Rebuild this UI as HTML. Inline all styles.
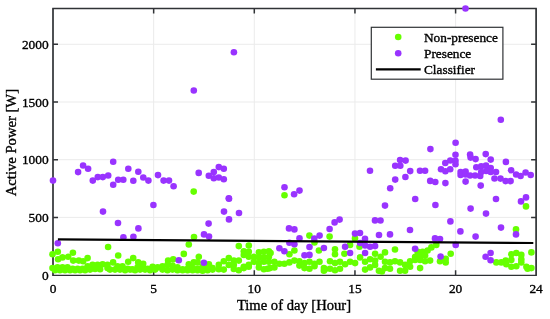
<!DOCTYPE html><html><head><meta charset="utf-8"><style>html,body{margin:0;padding:0;background:#fff;width:550px;height:319px;overflow:hidden}svg{display:block}text{font-family:"Liberation Serif","Times New Roman",serif;fill:#000;stroke:#000;stroke-width:0.35px}</style></head><body>
<svg width="550" height="319" viewBox="0 0 550 319">
<rect width="550" height="319" fill="#fff"/>
<path d="M153.65 8.5V275.15M254.30 8.5V275.15M354.95 8.5V275.15M455.60 8.5V275.15M53.0 217.40H536.1M53.0 159.70H536.1M53.0 102.00H536.1M53.0 44.30H536.1" stroke="#ebebeb" stroke-width="1" fill="none"/>
<path d="M52.25 8.5H536.85M52.25 275.45H536.85" stroke="#303336" stroke-width="1.3" fill="none"/>
<path d="M53.0 8.5V275.45M536.1 8.5V275.45" stroke="#303336" stroke-width="1.7" fill="none"/>
<path d="M153.65 275.45v-5.3M153.65 8.5v5M254.30 275.45v-5.3M254.30 8.5v5M354.95 275.45v-5.3M354.95 8.5v5M455.60 275.45v-5.3M455.60 8.5v5M53.0 217.40h5M536.1 217.40h-5M53.0 159.70h5M536.1 159.70h-5M53.0 102.00h5M536.1 102.00h-5M53.0 44.30h5M536.1 44.30h-5" stroke="#303336" stroke-width="1.5" fill="none"/>
<g fill="#66ff00"><circle cx="193.7" cy="191.6" r="3.3"/><circle cx="284.5" cy="195.2" r="3.3"/><circle cx="194.0" cy="237.0" r="3.3"/><circle cx="309.4" cy="235.6" r="3.3"/><circle cx="329.6" cy="236.6" r="3.3"/><circle cx="355.0" cy="238.4" r="3.3"/><circle cx="526.0" cy="206.4" r="3.3"/><circle cx="516.0" cy="229.4" r="3.3"/><circle cx="52.5" cy="268.1" r="3.3"/><circle cx="57.5" cy="267.4" r="3.3"/><circle cx="62.5" cy="267.4" r="3.3"/><circle cx="67.5" cy="267.4" r="3.3"/><circle cx="72.6" cy="268.7" r="3.3"/><circle cx="77.6" cy="268.7" r="3.3"/><circle cx="82.6" cy="268.7" r="3.3"/><circle cx="87.6" cy="266.2" r="3.3"/><circle cx="92.6" cy="264.9" r="3.3"/><circle cx="97.6" cy="264.9" r="3.3"/><circle cx="102.6" cy="264.3" r="3.3"/><circle cx="55.0" cy="270.2" r="3.3"/><circle cx="60.0" cy="270.2" r="3.3"/><circle cx="65.0" cy="270.2" r="3.3"/><circle cx="70.1" cy="270.2" r="3.3"/><circle cx="75.1" cy="270.2" r="3.3"/><circle cx="80.1" cy="270.2" r="3.3"/><circle cx="85.1" cy="270.2" r="3.3"/><circle cx="90.1" cy="269.6" r="3.3"/><circle cx="95.1" cy="269.0" r="3.3"/><circle cx="100.1" cy="269.3" r="3.3"/><circle cx="57.8" cy="251.8" r="3.3"/><circle cx="52.5" cy="254.3" r="3.3"/><circle cx="72.9" cy="252.7" r="3.3"/><circle cx="58.1" cy="259.3" r="3.3"/><circle cx="62.5" cy="257.4" r="3.3"/><circle cx="68.2" cy="256.8" r="3.3"/><circle cx="73.2" cy="260.6" r="3.3"/><circle cx="78.8" cy="260.6" r="3.3"/><circle cx="83.2" cy="261.2" r="3.3"/><circle cx="87.6" cy="258.1" r="3.3"/><circle cx="108.1" cy="247.0" r="3.3"/><circle cx="118.2" cy="255.5" r="3.3"/><circle cx="113.1" cy="262.4" r="3.3"/><circle cx="128.2" cy="261.8" r="3.3"/><circle cx="133.2" cy="258.1" r="3.3"/><circle cx="138.2" cy="262.4" r="3.3"/><circle cx="143.2" cy="263.7" r="3.3"/><circle cx="107.5" cy="264.9" r="3.3"/><circle cx="107.5" cy="268.1" r="3.3"/><circle cx="117.5" cy="266.2" r="3.3"/><circle cx="122.5" cy="266.2" r="3.3"/><circle cx="127.6" cy="268.7" r="3.3"/><circle cx="132.6" cy="269.3" r="3.3"/><circle cx="137.6" cy="267.4" r="3.3"/><circle cx="142.6" cy="267.4" r="3.3"/><circle cx="147.6" cy="268.7" r="3.3"/><circle cx="152.6" cy="266.8" r="3.3"/><circle cx="157.6" cy="267.4" r="3.3"/><circle cx="110.0" cy="269.6" r="3.3"/><circle cx="115.0" cy="269.6" r="3.3"/><circle cx="120.0" cy="269.6" r="3.3"/><circle cx="125.1" cy="270.2" r="3.3"/><circle cx="130.1" cy="269.6" r="3.3"/><circle cx="135.1" cy="270.2" r="3.3"/><circle cx="140.1" cy="269.6" r="3.3"/><circle cx="145.1" cy="269.6" r="3.3"/><circle cx="150.1" cy="270.2" r="3.3"/><circle cx="155.1" cy="269.6" r="3.3"/><circle cx="188.8" cy="244.5" r="3.3"/><circle cx="183.8" cy="253.9" r="3.3"/><circle cx="198.8" cy="256.8" r="3.3"/><circle cx="168.1" cy="260.6" r="3.3"/><circle cx="173.2" cy="259.3" r="3.3"/><circle cx="188.8" cy="264.3" r="3.3"/><circle cx="193.8" cy="262.4" r="3.3"/><circle cx="197.6" cy="262.4" r="3.3"/><circle cx="208.9" cy="264.3" r="3.3"/><circle cx="162.5" cy="266.2" r="3.3"/><circle cx="167.5" cy="264.9" r="3.3"/><circle cx="172.5" cy="265.6" r="3.3"/><circle cx="177.5" cy="267.4" r="3.3"/><circle cx="182.6" cy="269.3" r="3.3"/><circle cx="187.6" cy="268.7" r="3.3"/><circle cx="192.6" cy="268.1" r="3.3"/><circle cx="197.6" cy="268.7" r="3.3"/><circle cx="202.6" cy="266.8" r="3.3"/><circle cx="207.6" cy="268.1" r="3.3"/><circle cx="212.6" cy="268.1" r="3.3"/><circle cx="162.5" cy="269.6" r="3.3"/><circle cx="167.5" cy="270.2" r="3.3"/><circle cx="172.5" cy="269.6" r="3.3"/><circle cx="177.5" cy="270.2" r="3.3"/><circle cx="182.6" cy="270.2" r="3.3"/><circle cx="187.6" cy="270.2" r="3.3"/><circle cx="192.6" cy="270.2" r="3.3"/><circle cx="197.6" cy="270.2" r="3.3"/><circle cx="202.6" cy="270.8" r="3.3"/><circle cx="207.6" cy="270.2" r="3.3"/><circle cx="212.6" cy="269.6" r="3.3"/><circle cx="238.8" cy="246.1" r="3.3"/><circle cx="248.8" cy="245.5" r="3.3"/><circle cx="243.8" cy="251.2" r="3.3"/><circle cx="248.8" cy="251.8" r="3.3"/><circle cx="258.9" cy="252.4" r="3.3"/><circle cx="263.9" cy="251.8" r="3.3"/><circle cx="268.9" cy="251.2" r="3.3"/><circle cx="243.8" cy="254.9" r="3.3"/><circle cx="248.8" cy="256.8" r="3.3"/><circle cx="253.8" cy="256.8" r="3.3"/><circle cx="228.8" cy="258.1" r="3.3"/><circle cx="233.8" cy="260.6" r="3.3"/><circle cx="238.8" cy="260.6" r="3.3"/><circle cx="223.8" cy="261.2" r="3.3"/><circle cx="218.8" cy="264.9" r="3.3"/><circle cx="258.9" cy="257.4" r="3.3"/><circle cx="263.9" cy="257.4" r="3.3"/><circle cx="268.9" cy="256.8" r="3.3"/><circle cx="253.8" cy="261.8" r="3.3"/><circle cx="258.9" cy="263.1" r="3.3"/><circle cx="263.9" cy="261.8" r="3.3"/><circle cx="268.9" cy="261.8" r="3.3"/><circle cx="228.8" cy="264.9" r="3.3"/><circle cx="233.8" cy="264.9" r="3.3"/><circle cx="243.8" cy="266.8" r="3.3"/><circle cx="248.8" cy="264.9" r="3.3"/><circle cx="218.8" cy="269.3" r="3.3"/><circle cx="223.8" cy="269.6" r="3.3"/><circle cx="233.8" cy="269.0" r="3.3"/><circle cx="238.8" cy="270.2" r="3.3"/><circle cx="243.8" cy="268.1" r="3.3"/><circle cx="248.8" cy="266.8" r="3.3"/><circle cx="258.9" cy="267.4" r="3.3"/><circle cx="263.9" cy="269.3" r="3.3"/><circle cx="267.6" cy="268.7" r="3.3"/><circle cx="270.6" cy="253.0" r="3.3"/><circle cx="294.4" cy="250.5" r="3.3"/><circle cx="289.4" cy="254.3" r="3.3"/><circle cx="318.9" cy="250.5" r="3.3"/><circle cx="314.5" cy="242.4" r="3.3"/><circle cx="274.4" cy="261.8" r="3.3"/><circle cx="279.4" cy="263.7" r="3.3"/><circle cx="284.4" cy="263.7" r="3.3"/><circle cx="289.4" cy="262.4" r="3.3"/><circle cx="294.4" cy="260.6" r="3.3"/><circle cx="299.4" cy="261.2" r="3.3"/><circle cx="304.5" cy="263.1" r="3.3"/><circle cx="309.5" cy="261.8" r="3.3"/><circle cx="314.5" cy="263.7" r="3.3"/><circle cx="319.5" cy="261.8" r="3.3"/><circle cx="270.0" cy="268.1" r="3.3"/><circle cx="274.4" cy="267.4" r="3.3"/><circle cx="299.4" cy="265.6" r="3.3"/><circle cx="304.5" cy="268.1" r="3.3"/><circle cx="309.5" cy="268.7" r="3.3"/><circle cx="314.5" cy="266.2" r="3.3"/><circle cx="323.9" cy="268.1" r="3.3"/><circle cx="323.9" cy="270.8" r="3.3"/><circle cx="350.1" cy="244.9" r="3.3"/><circle cx="359.5" cy="246.8" r="3.3"/><circle cx="335.0" cy="249.3" r="3.3"/><circle cx="335.0" cy="254.3" r="3.3"/><circle cx="344.4" cy="253.7" r="3.3"/><circle cx="375.1" cy="253.7" r="3.3"/><circle cx="330.0" cy="261.2" r="3.3"/><circle cx="335.0" cy="263.1" r="3.3"/><circle cx="340.0" cy="261.8" r="3.3"/><circle cx="345.1" cy="264.3" r="3.3"/><circle cx="350.1" cy="261.8" r="3.3"/><circle cx="355.1" cy="263.1" r="3.3"/><circle cx="360.1" cy="257.4" r="3.3"/><circle cx="365.1" cy="261.8" r="3.3"/><circle cx="370.1" cy="259.3" r="3.3"/><circle cx="375.1" cy="260.6" r="3.3"/><circle cx="375.1" cy="264.9" r="3.3"/><circle cx="325.0" cy="269.3" r="3.3"/><circle cx="330.0" cy="268.7" r="3.3"/><circle cx="335.0" cy="270.2" r="3.3"/><circle cx="340.0" cy="268.7" r="3.3"/><circle cx="365.1" cy="269.6" r="3.3"/><circle cx="370.1" cy="267.4" r="3.3"/><circle cx="378.9" cy="270.8" r="3.3"/><circle cx="385.0" cy="252.4" r="3.3"/><circle cx="395.0" cy="249.5" r="3.3"/><circle cx="380.6" cy="256.8" r="3.3"/><circle cx="417.6" cy="251.8" r="3.3"/><circle cx="422.6" cy="251.8" r="3.3"/><circle cx="427.6" cy="250.5" r="3.3"/><circle cx="431.4" cy="247.4" r="3.3"/><circle cx="415.1" cy="256.8" r="3.3"/><circle cx="420.1" cy="256.8" r="3.3"/><circle cx="425.1" cy="255.5" r="3.3"/><circle cx="385.0" cy="261.8" r="3.3"/><circle cx="390.0" cy="262.4" r="3.3"/><circle cx="395.0" cy="261.2" r="3.3"/><circle cx="400.1" cy="262.4" r="3.3"/><circle cx="405.1" cy="264.9" r="3.3"/><circle cx="410.1" cy="261.2" r="3.3"/><circle cx="415.1" cy="259.9" r="3.3"/><circle cx="420.1" cy="259.9" r="3.3"/><circle cx="425.1" cy="261.2" r="3.3"/><circle cx="430.1" cy="260.6" r="3.3"/><circle cx="385.0" cy="268.1" r="3.3"/><circle cx="390.0" cy="268.7" r="3.3"/><circle cx="400.1" cy="270.8" r="3.3"/><circle cx="405.1" cy="270.8" r="3.3"/><circle cx="410.1" cy="266.8" r="3.3"/><circle cx="420.1" cy="268.1" r="3.3"/><circle cx="381.9" cy="271.5" r="3.3"/><circle cx="436.3" cy="244.9" r="3.3"/><circle cx="450.7" cy="253.7" r="3.3"/><circle cx="440.0" cy="261.2" r="3.3"/><circle cx="445.7" cy="258.7" r="3.3"/><circle cx="445.7" cy="262.4" r="3.3"/><circle cx="531.4" cy="252.4" r="3.3"/><circle cx="511.3" cy="254.3" r="3.3"/><circle cx="516.3" cy="253.0" r="3.3"/><circle cx="521.3" cy="254.9" r="3.3"/><circle cx="511.3" cy="259.9" r="3.3"/><circle cx="521.3" cy="259.3" r="3.3"/><circle cx="496.3" cy="262.4" r="3.3"/><circle cx="501.3" cy="262.4" r="3.3"/><circle cx="505.7" cy="260.6" r="3.3"/><circle cx="506.3" cy="264.3" r="3.3"/><circle cx="511.3" cy="266.8" r="3.3"/><circle cx="516.3" cy="266.2" r="3.3"/><circle cx="521.3" cy="262.4" r="3.3"/><circle cx="526.4" cy="266.8" r="3.3"/><circle cx="531.4" cy="268.1" r="3.3"/><circle cx="527.6" cy="268.7" r="3.3"/></g>
<g fill="#9933ff"><circle cx="465.5" cy="8.5" r="3.3"/><circle cx="233.9" cy="52.3" r="3.3"/><circle cx="193.8" cy="90.5" r="3.3"/><circle cx="500.8" cy="119.7" r="3.3"/><circle cx="53.0" cy="180.6" r="3.3"/><circle cx="78.1" cy="172.1" r="3.3"/><circle cx="83.1" cy="165.5" r="3.3"/><circle cx="88.1" cy="168.7" r="3.3"/><circle cx="92.8" cy="180.6" r="3.3"/><circle cx="97.8" cy="177.1" r="3.3"/><circle cx="102.8" cy="177.1" r="3.3"/><circle cx="108.2" cy="175.5" r="3.3"/><circle cx="113.2" cy="161.7" r="3.3"/><circle cx="113.2" cy="184.8" r="3.3"/><circle cx="118.2" cy="179.8" r="3.3"/><circle cx="123.3" cy="179.8" r="3.3"/><circle cx="128.3" cy="168.7" r="3.3"/><circle cx="133.3" cy="180.8" r="3.3"/><circle cx="138.3" cy="171.7" r="3.3"/><circle cx="143.3" cy="177.5" r="3.3"/><circle cx="148.4" cy="180.6" r="3.3"/><circle cx="158.0" cy="175.1" r="3.3"/><circle cx="163.6" cy="180.6" r="3.3"/><circle cx="169.0" cy="180.6" r="3.3"/><circle cx="173.6" cy="186.2" r="3.3"/><circle cx="198.7" cy="172.9" r="3.3"/><circle cx="208.8" cy="175.7" r="3.3"/><circle cx="213.8" cy="172.1" r="3.3"/><circle cx="213.8" cy="178.2" r="3.3"/><circle cx="218.8" cy="167.1" r="3.3"/><circle cx="223.8" cy="168.7" r="3.3"/><circle cx="218.8" cy="177.5" r="3.3"/><circle cx="223.8" cy="179.2" r="3.3"/><circle cx="228.8" cy="198.2" r="3.3"/><circle cx="284.5" cy="187.2" r="3.3"/><circle cx="294.1" cy="194.2" r="3.3"/><circle cx="299.5" cy="190.6" r="3.3"/><circle cx="370.0" cy="170.7" r="3.3"/><circle cx="430.4" cy="149.1" r="3.3"/><circle cx="400.1" cy="160.1" r="3.3"/><circle cx="405.6" cy="160.6" r="3.3"/><circle cx="395.2" cy="165.7" r="3.3"/><circle cx="400.3" cy="165.7" r="3.3"/><circle cx="410.2" cy="171.1" r="3.3"/><circle cx="420.0" cy="170.8" r="3.3"/><circle cx="425.1" cy="170.8" r="3.3"/><circle cx="395.2" cy="179.6" r="3.3"/><circle cx="405.4" cy="177.0" r="3.3"/><circle cx="390.2" cy="188.2" r="3.3"/><circle cx="430.2" cy="180.9" r="3.3"/><circle cx="435.3" cy="182.0" r="3.3"/><circle cx="415.2" cy="199.0" r="3.3"/><circle cx="455.6" cy="142.8" r="3.3"/><circle cx="455.5" cy="154.8" r="3.3"/><circle cx="450.3" cy="160.5" r="3.3"/><circle cx="455.5" cy="160.8" r="3.3"/><circle cx="445.3" cy="163.0" r="3.3"/><circle cx="455.5" cy="164.3" r="3.3"/><circle cx="441.0" cy="169.3" r="3.3"/><circle cx="445.4" cy="171.3" r="3.3"/><circle cx="450.2" cy="169.3" r="3.3"/><circle cx="445.4" cy="183.1" r="3.3"/><circle cx="470.1" cy="154.6" r="3.3"/><circle cx="470.6" cy="157.6" r="3.3"/><circle cx="475.6" cy="159.1" r="3.3"/><circle cx="485.7" cy="154.1" r="3.3"/><circle cx="490.7" cy="159.6" r="3.3"/><circle cx="476.3" cy="167.3" r="3.3"/><circle cx="481.2" cy="166.3" r="3.3"/><circle cx="486.0" cy="165.5" r="3.3"/><circle cx="490.7" cy="168.0" r="3.3"/><circle cx="460.6" cy="172.0" r="3.3"/><circle cx="465.6" cy="171.5" r="3.3"/><circle cx="460.6" cy="175.0" r="3.3"/><circle cx="465.6" cy="174.5" r="3.3"/><circle cx="470.1" cy="175.5" r="3.3"/><circle cx="475.1" cy="175.5" r="3.3"/><circle cx="480.2" cy="176.0" r="3.3"/><circle cx="465.6" cy="181.6" r="3.3"/><circle cx="480.7" cy="185.6" r="3.3"/><circle cx="486.2" cy="171.0" r="3.3"/><circle cx="490.7" cy="172.0" r="3.3"/><circle cx="494.5" cy="178.5" r="3.3"/><circle cx="481.2" cy="172.0" r="3.3"/><circle cx="505.9" cy="161.9" r="3.3"/><circle cx="511.1" cy="170.3" r="3.3"/><circle cx="496.0" cy="172.0" r="3.3"/><circle cx="500.5" cy="178.6" r="3.3"/><circle cx="505.6" cy="181.1" r="3.3"/><circle cx="510.6" cy="181.1" r="3.3"/><circle cx="516.1" cy="174.5" r="3.3"/><circle cx="520.6" cy="176.0" r="3.3"/><circle cx="525.6" cy="172.5" r="3.3"/><circle cx="530.7" cy="175.0" r="3.3"/><circle cx="526.0" cy="197.4" r="3.3"/><circle cx="103.0" cy="211.6" r="3.3"/><circle cx="153.4" cy="205.0" r="3.3"/><circle cx="118.0" cy="223.0" r="3.3"/><circle cx="138.4" cy="228.4" r="3.3"/><circle cx="123.4" cy="237.3" r="3.3"/><circle cx="133.4" cy="236.8" r="3.3"/><circle cx="229.0" cy="198.8" r="3.3"/><circle cx="224.0" cy="211.6" r="3.3"/><circle cx="239.0" cy="213.0" r="3.3"/><circle cx="229.0" cy="219.4" r="3.3"/><circle cx="208.6" cy="223.6" r="3.3"/><circle cx="204.0" cy="234.4" r="3.3"/><circle cx="209.0" cy="236.6" r="3.3"/><circle cx="289.0" cy="228.4" r="3.3"/><circle cx="294.4" cy="229.4" r="3.3"/><circle cx="329.6" cy="229.0" r="3.3"/><circle cx="334.6" cy="222.4" r="3.3"/><circle cx="339.6" cy="219.6" r="3.3"/><circle cx="375.0" cy="220.4" r="3.3"/><circle cx="355.0" cy="233.6" r="3.3"/><circle cx="360.0" cy="233.0" r="3.3"/><circle cx="379.0" cy="235.0" r="3.3"/><circle cx="299.5" cy="238.3" r="3.3"/><circle cx="319.6" cy="235.6" r="3.3"/><circle cx="314.3" cy="238.5" r="3.3"/><circle cx="365.0" cy="238.9" r="3.3"/><circle cx="385.0" cy="205.6" r="3.3"/><circle cx="435.4" cy="205.0" r="3.3"/><circle cx="470.6" cy="208.6" r="3.3"/><circle cx="486.0" cy="213.6" r="3.3"/><circle cx="380.5" cy="220.5" r="3.3"/><circle cx="450.4" cy="221.4" r="3.3"/><circle cx="410.0" cy="230.0" r="3.3"/><circle cx="390.0" cy="234.4" r="3.3"/><circle cx="460.4" cy="231.4" r="3.3"/><circle cx="475.6" cy="236.6" r="3.3"/><circle cx="435.0" cy="238.4" r="3.3"/><circle cx="440.0" cy="239.0" r="3.3"/><circle cx="496.0" cy="199.0" r="3.3"/><circle cx="521.0" cy="201.4" r="3.3"/><circle cx="501.0" cy="227.6" r="3.3"/><circle cx="516.0" cy="234.4" r="3.3"/><circle cx="57.8" cy="243.3" r="3.3"/><circle cx="178.8" cy="260.3" r="3.3"/><circle cx="203.9" cy="262.8" r="3.3"/><circle cx="289.4" cy="242.8" r="3.3"/><circle cx="294.4" cy="244.3" r="3.3"/><circle cx="279.4" cy="248.3" r="3.3"/><circle cx="284.4" cy="251.2" r="3.3"/><circle cx="309.5" cy="247.0" r="3.3"/><circle cx="304.5" cy="255.3" r="3.3"/><circle cx="309.5" cy="254.9" r="3.3"/><circle cx="323.9" cy="248.0" r="3.3"/><circle cx="345.1" cy="246.8" r="3.3"/><circle cx="350.1" cy="253.0" r="3.3"/><circle cx="360.1" cy="243.0" r="3.3"/><circle cx="365.1" cy="245.5" r="3.3"/><circle cx="370.1" cy="246.8" r="3.3"/><circle cx="375.1" cy="246.1" r="3.3"/><circle cx="365.1" cy="253.0" r="3.3"/><circle cx="415.1" cy="248.7" r="3.3"/><circle cx="455.7" cy="244.9" r="3.3"/><circle cx="440.6" cy="256.5" r="3.3"/><circle cx="490.6" cy="253.0" r="3.3"/><circle cx="490.6" cy="260.3" r="3.3"/><circle cx="485.6" cy="256.8" r="3.3"/></g>
<path d="M57.9 239.4L533.3 243" stroke="#000" stroke-width="2.2" fill="none"/>
<text x="53.00" y="292.5" font-size="13.4" text-anchor="middle">0</text>
<text x="153.65" y="292.5" font-size="13.4" text-anchor="middle">5</text>
<text x="254.30" y="292.5" font-size="13.4" text-anchor="middle">10</text>
<text x="354.95" y="292.5" font-size="13.4" text-anchor="middle">15</text>
<text x="455.60" y="292.5" font-size="13.4" text-anchor="middle">20</text>
<text x="536.12" y="292.5" font-size="13.4" text-anchor="middle">24</text>
<text x="48.7" y="279.60" font-size="13.4" text-anchor="end">0</text>
<text x="48.7" y="221.90" font-size="13.4" text-anchor="end">500</text>
<text x="48.7" y="164.20" font-size="13.4" text-anchor="end">1000</text>
<text x="48.7" y="106.50" font-size="13.4" text-anchor="end">1500</text>
<text x="48.7" y="48.80" font-size="13.4" text-anchor="end">2000</text>
<text x="294.0" y="309.7" font-size="14.6" text-anchor="middle">Time of day [Hour]</text>
<text transform="translate(16.3 142.6) rotate(-90)" font-size="14.65" text-anchor="middle">Active Power [W]</text>
<rect x="371.3" y="27.3" width="131.6" height="51.9" fill="#fff" stroke="#303336" stroke-width="1.2"/>
<circle cx="398.2" cy="37" r="3.3" fill="#66ff00"/>
<circle cx="398.2" cy="53.2" r="3.3" fill="#9933ff"/>
<path d="M375.9 69.4H420.7" stroke="#000" stroke-width="2.3"/>
<text x="424" y="42" font-size="13.3">Non-presence</text>
<text x="424" y="57.7" font-size="13.3">Presence</text>
<text x="424" y="74.1" font-size="13.3">Classifier</text>
</svg></body></html>
